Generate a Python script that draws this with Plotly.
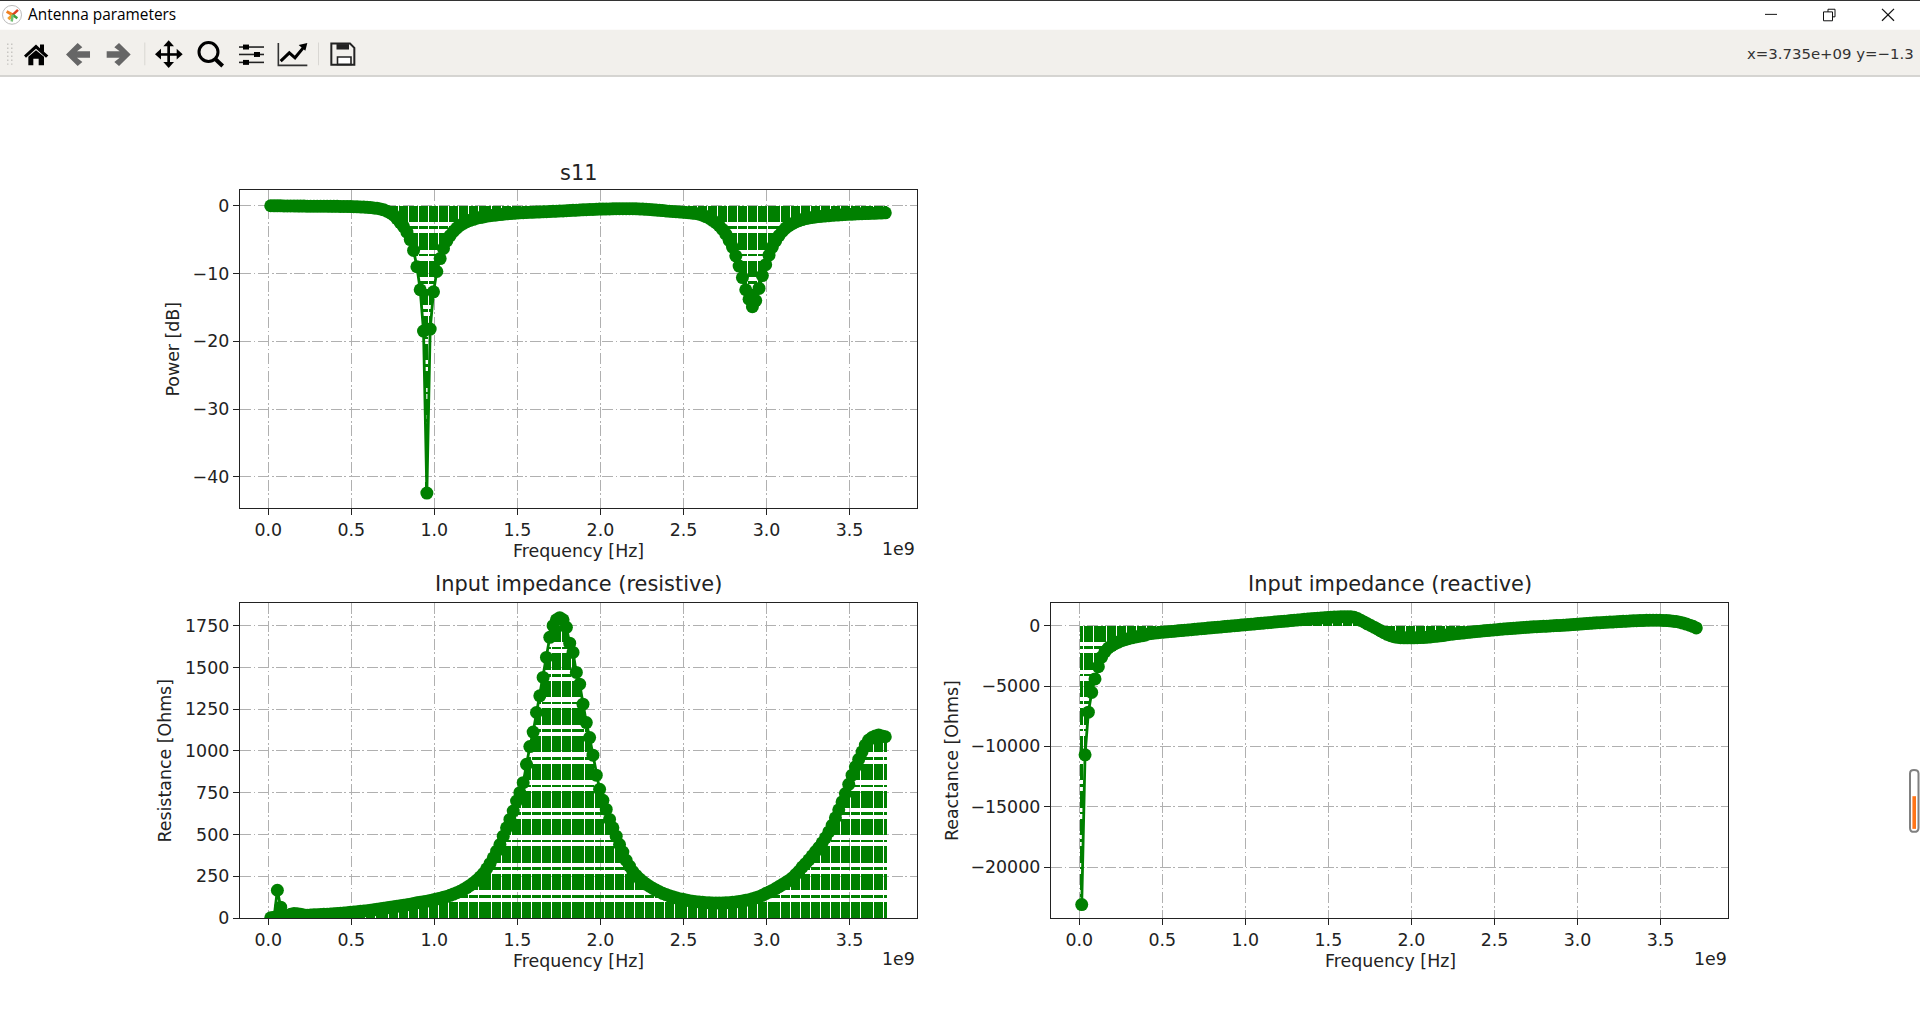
import plotly.graph_objects as go

W, H = 1920, 1031
GREEN = "#008000"
FONT = "DejaVu Sans"

# frequency grid in MHz
freq_mhz = [
    15, 35, 55, 75, 95, 115, 135, 155, 175, 195,
    215, 235, 255, 275, 295, 315, 335, 355, 375, 395,
    415, 435, 455, 475, 495, 515, 535, 555, 575, 595,
    615, 635, 655, 675, 695, 715, 735, 755, 775, 795,
    815, 835, 855, 875, 895, 915, 935, 955, 975, 995,
    1015, 1035, 1055, 1075, 1095, 1115, 1135, 1155, 1175, 1195,
    1215, 1235, 1255, 1275, 1295, 1315, 1335, 1355, 1375, 1395,
    1415, 1435, 1455, 1475, 1495, 1515, 1535, 1555, 1575, 1595,
    1615, 1635, 1655, 1675, 1695, 1715, 1735, 1755, 1775, 1795,
    1815, 1835, 1855, 1875, 1895, 1915, 1935, 1955, 1975, 1995,
    2015, 2035, 2055, 2075, 2095, 2115, 2135, 2155, 2175, 2195,
    2215, 2235, 2255, 2275, 2295, 2315, 2335, 2355, 2375, 2395,
    2415, 2435, 2455, 2475, 2495, 2515, 2535, 2555, 2575, 2595,
    2615, 2635, 2655, 2675, 2695, 2715, 2735, 2755, 2775, 2795,
    2815, 2835, 2855, 2875, 2895, 2915, 2935, 2955, 2975, 2995,
    3015, 3035, 3055, 3075, 3095, 3115, 3135, 3155, 3175, 3195,
    3215, 3235, 3255, 3275, 3295, 3315, 3335, 3355, 3375, 3395,
    3415, 3435, 3455, 3475, 3495, 3515, 3535, 3555, 3575, 3595,
    3615, 3635, 3655, 3675, 3695, 3715,
]

s11_db = [
    0, -.01, -.02, -.02, -.03, -.03, -.04, -.04, -.05, -.05,
    -.05, -.06, -.06, -.06, -.07, -.07, -.08, -.08, -.09, -.09,
    -.09, -.10, -.10, -.11, -.12, -.14, -.16, -.18, -.20, -.23,
    -.27, -.32, -.38, -.48, -.60, -.80, -1.05, -1.40, -1.90, -2.50,
    -3.1, -3.9, -5.0, -6.6, -9.0, -12.4, -18.5, -42.4, -18.2, -12.7,
    -9.7, -7.8, -6.3, -5.2, -4.4, -3.8, -3.3, -2.9, -2.6, -2.35,
    -2.15, -2.0, -1.85, -1.75, -1.65, -1.55, -1.48, -1.42, -1.36, -1.30,
    -1.25, -1.2, -1.16, -1.12, -1.08, -1.05, -1.03, -1.0, -.98, -.96,
    -.94, -.92, -.90, -.88, -.85, -.82, -.80, -.78, -.76, -.73,
    -.70, -.68, -.65, -.62, -.60, -.58, -.56, -.54, -.52, -.50,
    -.49, -.48, -.47, -.46, -.45, -.45, -.45, -.45, -.45, -.45,
    -.46, -.48, -.50, -.53, -.56, -.60, -.64, -.68, -.72, -.76,
    -.80, -.84, -.88, -.92, -.96, -1.0, -1.05, -1.1, -1.15, -1.25,
    -1.4, -1.6, -1.85, -2.15, -2.5, -2.95, -3.5, -4.2, -5.1, -6.1,
    -7.4, -8.9, -10.6, -12.4, -13.8, -14.9, -14.0, -12.2, -10.3, -8.7,
    -7.3, -6.1, -5.2, -4.4, -3.8, -3.3, -2.95, -2.65, -2.4, -2.2,
    -2.05, -1.9, -1.8, -1.72, -1.65, -1.6, -1.55, -1.5, -1.46, -1.42,
    -1.38, -1.35, -1.32, -1.29, -1.26, -1.24, -1.22, -1.2, -1.18, -1.16,
    -1.14, -1.12, -1.1, -1.08, -1.06, -1.05,
]

resistance = [
    1, 4, 166, 65, 2, 15, 22, 27, 26, 22,
    18, 17, 18, 19, 20, 21, 22, 23, 24, 25,
    27, 28, 30, 32, 34, 36, 38, 40, 42, 44,
    46, 49, 52, 55, 58, 61, 64, 67, 70, 73,
    76, 79, 83, 87, 91, 95, 98, 101, 105, 109,
    114, 119, 124, 129, 136, 143, 151, 160, 170, 182,
    195, 210, 226, 245, 266, 295, 325, 360, 400, 440,
    490, 540, 590, 640, 700, 750, 810, 920, 1026, 1113,
    1230, 1330, 1440, 1560, 1680, 1750, 1785, 1798, 1785, 1740,
    1645, 1590, 1470, 1400, 1280, 1170, 1080, 975, 855, 770,
    705, 650, 590, 540, 490, 440, 395, 345, 310, 278,
    255, 235, 218, 203, 190, 178, 167, 157, 148, 140,
    133, 127, 121, 116, 112, 108, 104, 101, 98, 96,
    94, 92, 91, 90, 90, 90, 90, 91, 92, 94,
    96, 99, 102, 106, 110, 115, 121, 128, 136, 146,
    155, 165, 176, 188, 200, 212, 225, 240, 260, 280,
    305, 325, 348, 372, 398, 422, 450, 480, 515, 555,
    600, 648, 695, 745, 800, 855, 905, 950, 995, 1035,
    1065, 1080, 1090, 1095, 1090, 1085,
]

reactance = [
    -23100, -10700, -7170, -5530, -4410, -3400, -2600, -2150, -1850, -1650,
    -1500, -1360, -1250, -1160, -1080, -1010, -950, -890, -840, -790,
    -690, -650, -615, -585, -555, -530, -505, -480, -455, -430,
    -405, -380, -355, -330, -305, -280, -255, -230, -205, -180,
    -155, -130, -105, -80, -55, -30, -5, 20, 45, 70,
    95, 120, 145, 170, 195, 220, 245, 270, 295, 320,
    345, 370, 395, 420, 445, 470, 495, 520, 545, 570,
    595, 615, 640, 660, 680, 700, 715, 725, 730, 735,
    735, 730, 695, 590, 440, 300, 150, 10, -130, -280,
    -430, -580, -720, -830, -920, -970, -1000, -1010, -1010, -1010,
    -1010, -1000, -990, -975, -955, -930, -900, -870, -840, -810,
    -760, -720, -690, -660, -630, -600, -570, -540, -510, -480,
    -455, -430, -405, -380, -355, -330, -305, -280, -260, -240,
    -220, -200, -180, -160, -140, -120, -100, -85, -70, -55,
    -40, -25, -10, 5, 20, 35, 50, 70, 90, 110,
    130, 150, 170, 190, 210, 230, 250, 265, 280, 295,
    310, 325, 340, 355, 370, 385, 400, 410, 420, 430,
    440, 445, 450, 450, 445, 435, 420, 400, 370, 335,
    280, 210, 130, 40, -60, -190,
]

freq_ticks = [0, 0.5e9, 1e9, 1.5e9, 2e9, 2.5e9, 3e9, 3.5e9]
freq_labels = ["0.0", "0.5", "1.0", "1.5", "2.0", "2.5", "3.0", "3.5"]
power_ticks = [0, -10, -20, -30, -40]
power_labels = ["0", "−10", "−20", "−30", "−40"]
res_ticks = [0, 250, 500, 750, 1000, 1250, 1500, 1750]
res_labels = ["0", "250", "500", "750", "1000", "1250", "1500", "1750"]
react_ticks = [0, -5000, -10000, -15000, -20000]
react_labels = ["0", "−5000", "−10000", "−15000", "−20000"]

freq_hz = [f * 1e6 for f in freq_mhz]


def X(px):
    return px / W


def Y(px):
    return 1 - px / H


def add_panel(fig, axis, values):
    # stems share one dash-dot pattern, so the gaps line up into white bands
    sx, sy = [], []
    for f, v in zip(freq_hz, values):
        sx += [f, f, None]
        sy += [0, v, None]
    fig.add_trace(go.Scatter(x=sx, y=sy, mode="lines", xaxis="x" + axis, yaxis="y" + axis,
                             line=dict(color=GREEN, width=3, dash="16.4px,4px,2.6px,4.6px"),
                             hoverinfo="skip", showlegend=False))
    fig.add_trace(go.Scatter(x=freq_hz, y=values, mode="lines+markers", xaxis="x" + axis, yaxis="y" + axis,
                             line=dict(color=GREEN, width=2.8),
                             marker=dict(color=GREEN, size=13), showlegend=False))


def axis_style(**kw):
    d = dict(showline=True, mirror=True, linecolor="#222222", linewidth=1.4,
             ticks="outside", ticklen=6, tickwidth=1.3, tickcolor="#222222",
             tickfont=dict(family=FONT, size=17.4, color="#222222"),
             showgrid=True, gridcolor="#b0b0b0", gridwidth=1.4,
             griddash="11px,2.7px,1.7px,2.7px", zeroline=False)
    d.update(kw)
    return d


fig = go.Figure()
add_panel(fig, "", s11_db)
add_panel(fig, "2", resistance)
add_panel(fig, "3", reactance)

freq_range = [-0.17e9, 3.906e9]
fig.update_layout(
    width=W, height=H, margin=dict(l=0, r=0, t=0, b=0),
    paper_bgcolor="white", plot_bgcolor="white", showlegend=False,
    xaxis=axis_style(domain=[X(240), X(917)], range=freq_range, tickvals=freq_ticks, ticktext=freq_labels, anchor="y"),
    yaxis=axis_style(domain=[Y(513), Y(192)], range=[-44.6, 2.3], tickvals=power_ticks, ticktext=power_labels, anchor="x"),
    xaxis2=axis_style(domain=[X(240), X(917)], range=freq_range, tickvals=freq_ticks, ticktext=freq_labels, anchor="y2"),
    yaxis2=axis_style(domain=[Y(927), Y(608.5)], range=[0, 1888], tickvals=res_ticks, ticktext=res_labels, anchor="x2"),
    xaxis3=axis_style(domain=[X(1051), X(1728)], range=freq_range, tickvals=freq_ticks, ticktext=freq_labels, anchor="y3"),
    yaxis3=axis_style(domain=[Y(927), Y(608.5)], range=[-24216, 1909], tickvals=react_ticks, ticktext=react_labels, anchor="x3"),
)


def label(text, x, y, size=17.4, xanchor="center", angle=0, family=FONT, color="#222222"):
    fig.add_annotation(text=text, x=X(x), y=Y(y), xref="paper", yref="paper", showarrow=False,
                       xanchor=xanchor, yanchor="middle", textangle=angle,
                       font=dict(family=family, size=size, color=color))


label("s11", 578, 175, size=20.9)
label("Input impedance (resistive)", 578, 590, size=20.9)
label("Input impedance (reactive)", 1390, 590, size=20.9)
label("Frequency [Hz]", 578, 556)
label("Frequency [Hz]", 578, 970)
label("Frequency [Hz]", 1390, 970)
label("1e9", 917, 554, xanchor="right")
label("1e9", 917, 968, xanchor="right")
label("1e9", 1729, 968, xanchor="right")
label("Power [dB]", 173, 353, angle=-90)
label("Resistance [Ohms]", 165, 768, angle=-90)
label("Reactance [Ohms]", 951.5, 768, angle=-90)
label("Antenna parameters", 26, 15, size=15.4, xanchor="left", family="Open Sans", color="#000000")
label("x=3.735e+09 y=−1.3", 1916, 55, size=14.9, xanchor="right", color="#333333")

shapes = []


def rect(x0, y0, x1, y1, fill=None, line=None, lw=0):
    shapes.append(dict(type="rect", xref="paper", yref="paper", x0=X(x0), y0=Y(y0), x1=X(x1), y1=Y(y1),
                       fillcolor=fill, line=dict(color=line, width=lw), layer="above"))


def circle(cx, cy, r, fill=None, line=None, lw=0):
    shapes.append(dict(type="circle", xref="paper", yref="paper", x0=X(cx - r), y0=Y(cy - r), x1=X(cx + r), y1=Y(cy + r),
                       fillcolor=fill, line=dict(color=line, width=lw), layer="above"))


def poly(pts, fill=None, line=None, lw=0, closed=True):
    d = "M" + " L".join(f"{X(p[0] / 3):.5f},{Y(p[1] / 3):.5f}" for p in pts)
    if closed:
        d += " Z"
    shapes.append(dict(type="path", xref="paper", yref="paper", path=d, fillcolor=fill,
                       line=dict(color=line, width=lw), layer="above"))


# window chrome
rect(0, 0, W, 1, fill="#333333")
rect(0, 30, W, 76, fill="#f2f0ec")
rect(0, 76, W, 77.5, fill="#c9c7c3")

# title bar logo
circle(12, 15, 9.5, fill="#ffffff", line="#bbbbbb", lw=1)
poly([(38, 45), (20, 35)], line="#f08020", lw=3, closed=False)
poly([(38, 45), (25, 58)], line="#f0a030", lw=3, closed=False)
poly([(38, 45), (54, 30)], line="#e04020", lw=2.5, closed=False)
poly([(38, 45), (52, 55)], line="#40a040", lw=2.5, closed=False)
poly([(38, 45), (35, 65)], line="#70c070", lw=2.5, closed=False)

# window buttons
rect(1765, 14, 1777, 15, fill="#111111")
rect(1823.5, 12, 1832.5, 21, line="#111111", lw=1)
poly([(5484, 36), (5484, 28), (5505, 28), (5505, 51), (5497, 51)], line="#111111", lw=1, closed=False)
poly([(5646, 27), (5682, 63)], line="#111111", lw=1.2, closed=False)
poly([(5682, 27), (5646, 63)], line="#111111", lw=1.2, closed=False)

# toolbar grip
for gx in (7, 11):
    for gy in (44, 48, 52, 56, 60, 64):
        rect(gx, gy, gx + 1.5, gy + 1.5, fill="#c8c6c2")

# home
poly([(72, 168), (108, 135), (120, 146), (120, 135), (132, 135), (132, 157), (145, 168), (138, 175), (108, 148), (78, 175)], fill="#000000")
poly([(85, 172), (108, 152), (132, 172), (132, 198), (116, 198), (116, 178), (100, 178), (100, 198), (85, 198)], fill="#000000")
# back, forward
poly([(198, 165), (233, 130), (247, 143), (231, 155), (270, 155), (270, 175), (231, 175), (247, 188), (233, 200)], fill="#666666")
poly([(392, 165), (357, 130), (343, 143), (359, 155), (320, 155), (320, 175), (359, 175), (343, 188), (357, 200)], fill="#666666")
# separators
rect(144.3, 43, 145.3, 66, fill="#d9d7d3")
rect(318, 43, 319, 66, fill="#d9d7d3")
# pan
rect(167.3, 46, 170, 64, fill="#000000")
rect(160, 53.7, 178, 56.3, fill="#000000")
poly([(506, 122), (522, 140), (490, 140)], fill="#000000")
poly([(506, 206), (522, 188), (490, 188)], fill="#000000")
poly([(465, 164), (483, 148), (483, 180)], fill="#000000")
poly([(548, 164), (530, 148), (530, 180)], fill="#000000")
# zoom
circle(208.5, 52.5, 9.5, line="#000000", lw=3)
poly([(645, 178), (668, 200)], line="#000000", lw=4, closed=False)
# sliders
for sy, kx in ((47.5, 246), (55, 257), (63, 246)):
    rect(239, sy - 0.8, 264, sy + 0.8, fill="#222222")
    rect(kx - 3, sy - 2.5, kx + 3, sy + 2.5, fill="#000000")
# line chart
poly([(835, 130), (835, 198), (922, 198)], line="#333333", lw=1.6, closed=False)
poly([(842, 185), (868, 160), (885, 175), (912, 142)], line="#000000", lw=3, closed=False)
poly([(922, 130), (896, 136), (916, 154)], fill="#000000")
# save
poly([(994, 132), (1050, 132), (1063, 145), (1063, 196), (994, 196)], line="#222222", lw=2)
rect(336.5, 44.5, 349, 50, fill="#222222")
rect(337.5, 57.5, 351, 65, fill="#ffffff", line="#222222", lw=1.6)

# scroll gadget on the right edge
shapes.append(dict(type="path", xref="paper", yref="paper", layer="above",
                   path=f"M{X(1910)},{Y(781)} Q{X(1910)},{Y(777.5)} {X(1914)},{Y(777.5)} Q{X(1918.5)},{Y(777.5)} {X(1918.5)},{Y(781)} "
                        f"L{X(1918.5)},{Y(836)} Q{X(1918.5)},{Y(840)} {X(1914)},{Y(840)} Q{X(1910)},{Y(840)} {X(1910)},{Y(836)} Z",
                   line=dict(color="#808080", width=2), fillcolor="#ffffff"))
rect(1912.4, 804, 1916, 837, fill="#ff7518")

fig.update_layout(shapes=shapes)

# stems get hard edges, which leaves the thin slits seen between them in the original;
# the page is pinned to the window so nothing adds height under the plot
post = """
var root=document.documentElement, body=document.body;
root.style.height='1031px'; root.style.overflow='hidden';
body.style.margin='0'; body.style.height='1031px'; body.style.overflow='hidden';
var gd=document.querySelector('.plotly-graph-div');
gd.style.position='fixed'; gd.style.left='0'; gd.style.top='0';
document.querySelectorAll('.scatterlayer .trace:first-child .js-line').forEach(function(p){p.style.shapeRendering='crispEdges';});
"""
fig.write_html("out.html", config={"displayModeBar": False}, post_script=post)
